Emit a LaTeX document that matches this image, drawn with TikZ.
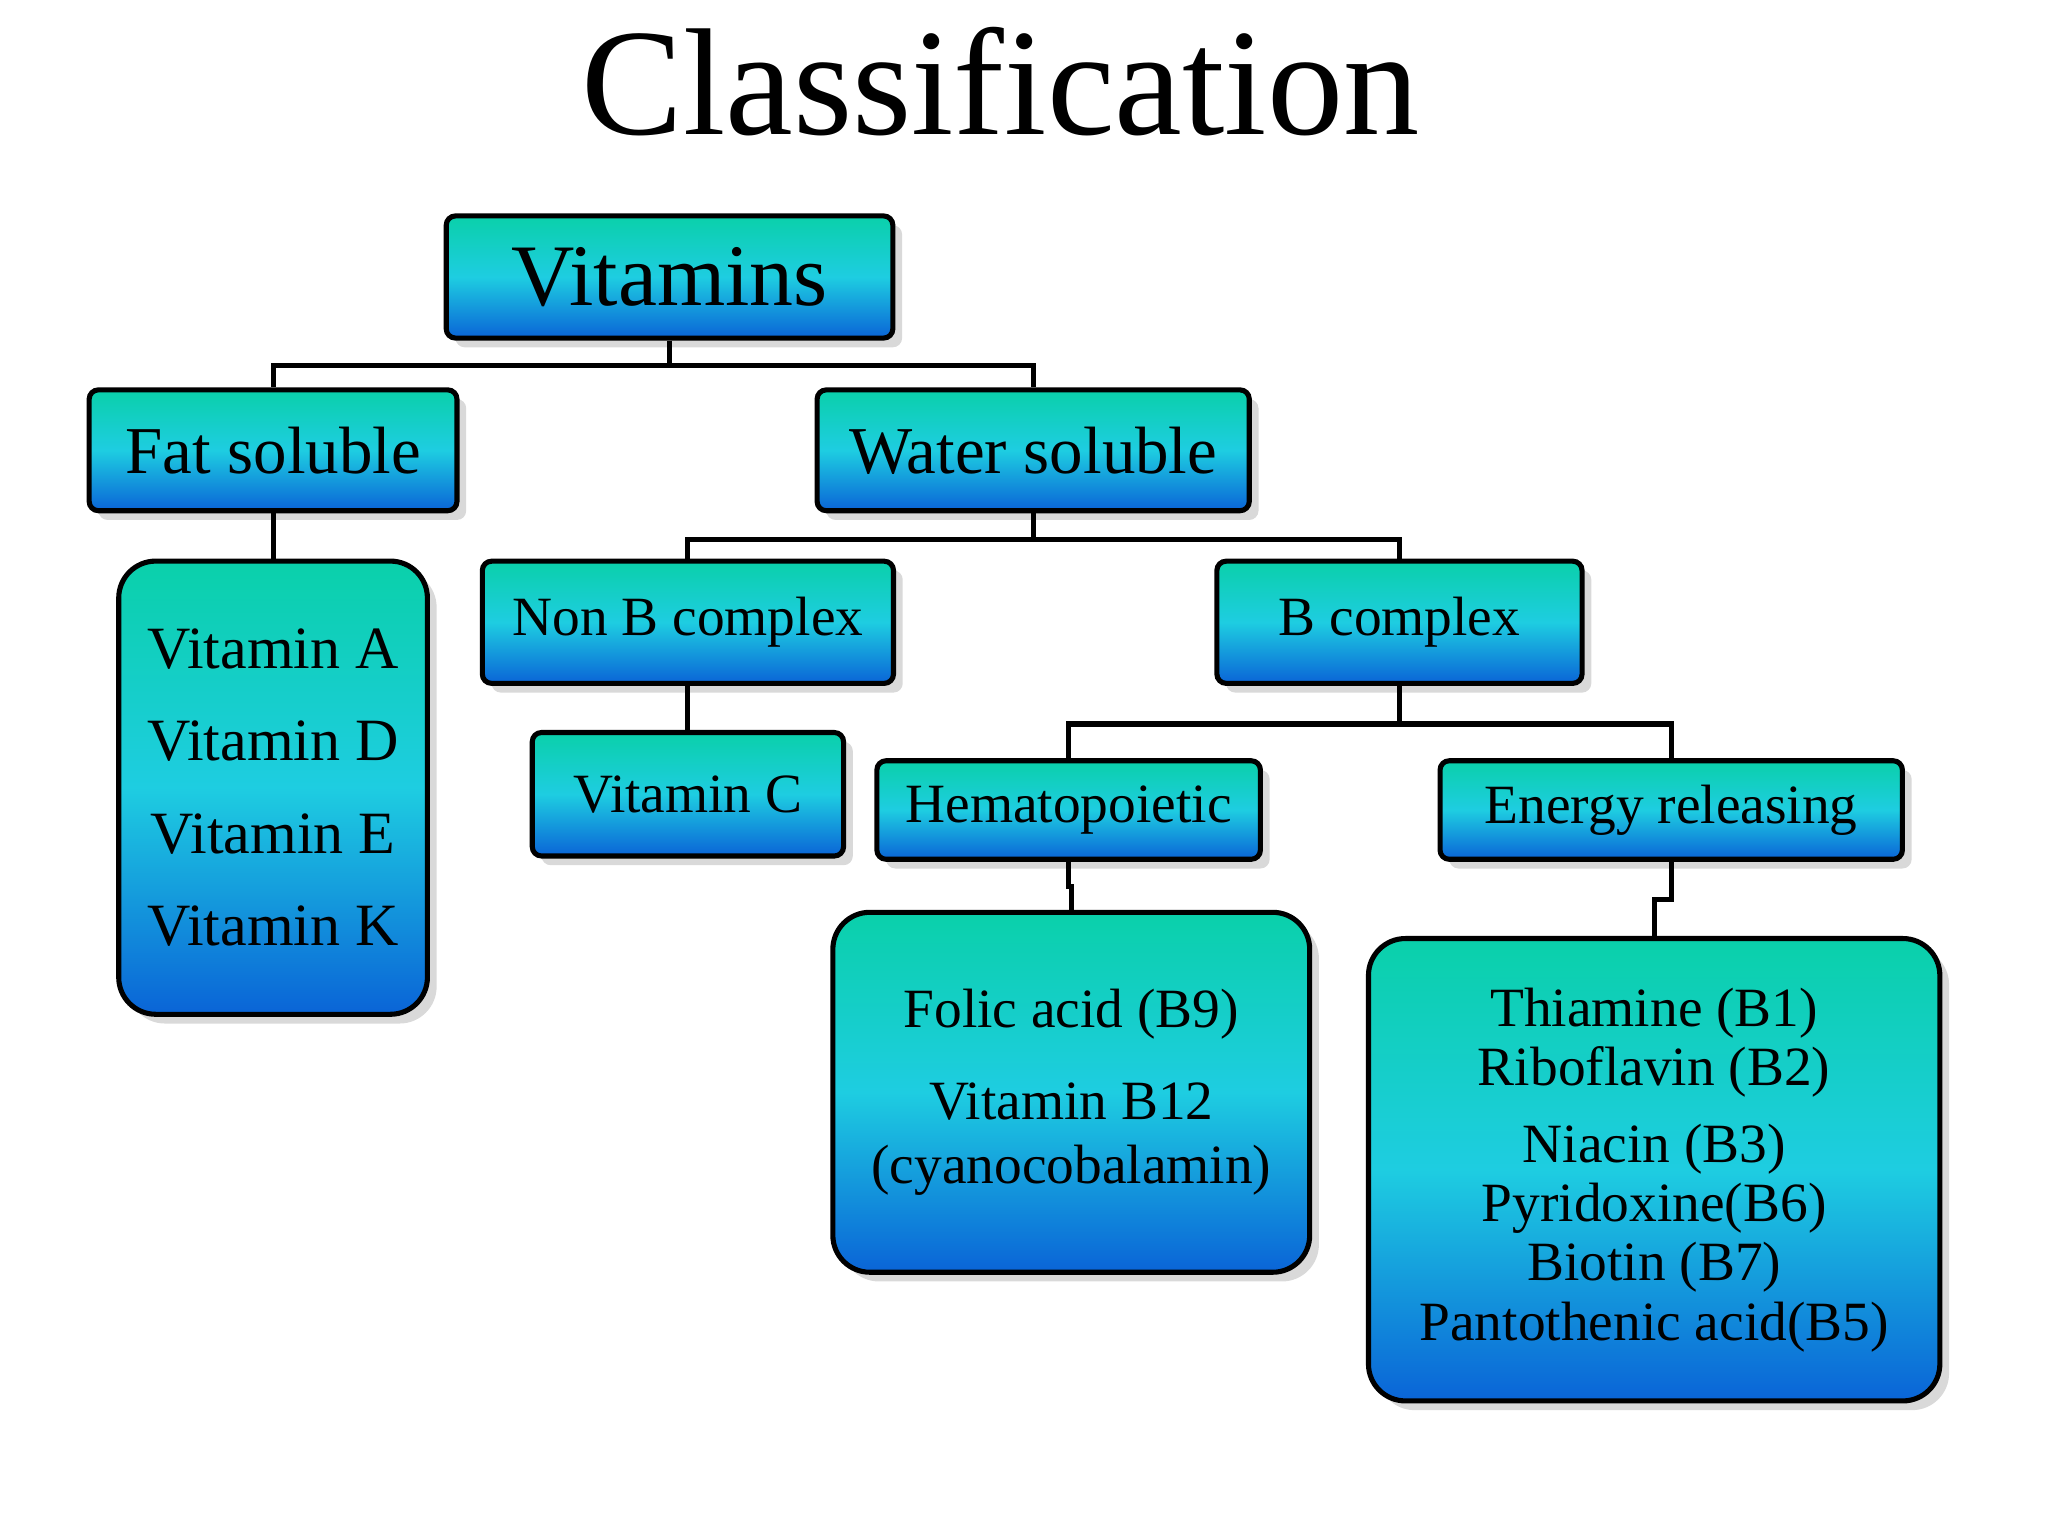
\documentclass[tikz,border=0pt]{standalone}
\usepackage{fontspec}
\setmainfont{Liberation Serif}
\usetikzlibrary{shadows}

\definecolor{boxtop}{RGB}{10,208,170}
\definecolor{boxmid}{RGB}{30,205,225}
\definecolor{boxbot}{RGB}{10,100,215}

\tikzset{
  box/.style={draw=black, line width=1.1pt, rounded corners=2pt, inner sep=0pt,
    top color=boxtop, bottom color=boxbot, middle color=boxmid,
    drop shadow={opacity=0.3, shadow xshift=2pt, shadow yshift=-2pt}},
  leaf/.style={box, rounded corners=8pt, align=center},
  link/.style={line width=1.1pt}
}

\begin{document}
\begin{tikzpicture}[x=0.01cm, y=-0.01cm]
  \useasboundingbox (0,0) rectangle (1560,1170);

  %Title
  \node[font=\fontsize{33}{35}\selectfont] (title) at (762,62) {Classification};

  %Boxes
  \node[box, minimum width=3.4cm, minimum height=0.93cm, font=\fontsize{19}{21}\selectfont] (vit) at (510,211) {Vitamins};
  \node[box, minimum width=2.8cm, minimum height=0.92cm, font=\fontsize{14.5}{16}\selectfont] (fat) at (208,343) {Fat soluble};
  \node[box, minimum width=3.29cm, minimum height=0.92cm, font=\fontsize{14.5}{16}\selectfont] (water) at (787,343) {Water soluble};
  \node[leaf, minimum width=2.35cm, minimum height=3.45cm, font=\fontsize{13}{16}\selectfont] (fatlist) at (208,600)
    {Vitamin A\\[4pt]Vitamin D\\[4pt]Vitamin E\\[4pt]Vitamin K};
  \node[box, minimum width=3.13cm, minimum height=0.93cm, font=\fontsize{12}{14}\selectfont] (nonb) at (524,474) {Non B complex};
  \node[box, minimum width=2.78cm, minimum height=0.93cm, font=\fontsize{12}{14}\selectfont] (bcomp) at (1066,474) {B complex};
  \node[box, minimum width=2.37cm, minimum height=0.94cm, font=\fontsize{12}{14}\selectfont] (vitc) at (524,605) {Vitamin C};
  \node[box, minimum width=2.92cm, minimum height=0.75cm, font=\fontsize{12}{14}\selectfont] (hema) at (814,617) {Hematopoietic};
  \node[box, minimum width=3.52cm, minimum height=0.75cm, font=\fontsize{12}{14}\selectfont] (energy) at (1273,617) {Energy releasing};
  \node[leaf, minimum width=3.63cm, minimum height=2.74cm, font=\fontsize{12}{14}\selectfont] (hemalist) at (816,832)
    {Folic acid (B9)\\[6pt]Vitamin B12\\(cyanocobalamin)};
  \node[leaf, minimum width=4.35cm, minimum height=3.52cm, font=\fontsize{12}{12.8}\selectfont] (energylist) at (1260,891)
    {Thiamine (B1)\\Riboflavin (B2)\\[4pt]Niacin (B3)\\Pyridoxine(B6)\\Biotin (B7)\\Pantothenic acid(B5)};

  %Lines
  \coordinate (hemajog) at (814,675);
  \coordinate (energyjog) at (1273,685);
  \draw[link] (vit.south) -- ++(0,19) -| (fat.north);
  \draw[link] (vit.south) -- ++(0,19) -| (water.north);
  \draw[link] (fat.south) -- (fatlist.north);
  \draw[link] (water.south) -- ++(0,20) -| (nonb.north);
  \draw[link] (water.south) -- ++(0,20) -| (bcomp.north);
  \draw[link] (nonb.south) -- (vitc.north);
  \draw[link] (bcomp.south) -- ++(0,29) -| (hema.north);
  \draw[link] (bcomp.south) -- ++(0,29) -| (energy.north);
  \draw[link] (hema.south) -- (hemajog) -| (hemalist.north);
  \draw[link] (energy.south) -- (energyjog) -| (energylist.north);
\end{tikzpicture}
\end{document}
